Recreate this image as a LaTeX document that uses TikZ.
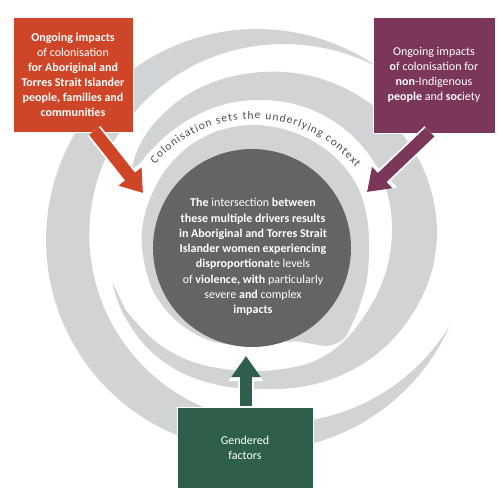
\documentclass[tikz,border=0pt]{standalone}
\usepackage{fontspec}
\setmainfont{Carlito}
\usetikzlibrary{decorations.text,arrows.meta}
\definecolor{band}{HTML}{D1D3D4}
\definecolor{core}{HTML}{636466}
\definecolor{orangebox}{HTML}{CF4527}
\definecolor{purplebox}{HTML}{7A3759}
\definecolor{greenbox}{HTML}{2D5F4A}
\definecolor{arctext}{HTML}{4D4D4F}
\tikzset{
  boxnode/.style={draw=white, line width=0.8pt, text=white, align=center, inner sep=2pt, font=\fontsize{12}{15}\selectfont},
  arrowwhite/.style={draw=white, line width=16pt, -{Triangle[width=33pt,length=25pt]}},
  arrowfill/.style={line width=12.5pt, -{Triangle[width=28pt,length=21pt]}},
}
\begin{document}
\begin{tikzpicture}[x=1pt,y=1pt]
\useasboundingbox (0,0) rectangle (503,-496);
% outer band
\fill[band, shift={(257,-240)}]
  plot[domain=55:336, samples=90] ({211*cos(\x)}, {211*sin(\x)})
  -- plot[domain=336:55, samples=90] ({(211-44*sin(0.6406*(\x-55)))*cos(\x)}, {(211-44*sin(0.6406*(\x-55)))*sin(\x)}) -- cycle;
% middle band
\fill[band, shift={(262,-232)}]
  plot[smooth, tension=0.6] coordinates {(-161.5:158) (-150:161) (-135:163) (-120:162) (-105:159) (-90:157) (-75:160) (-60:164) (-45:168) (-30:171) (-15:174) (0:175) (15:174) (30:172) (45:169) (60:166) (75:163) (90:160) (105:158) (120:156) (135:153) (147:149) (157:143)}
  -- plot[smooth, tension=0.6] coordinates {(147:139) (135:136) (120:134) (105:133) (90:132) (75:132) (60:132) (45:132) (30:132) (15:131) (0:130) (-15:130) (-30:131) (-45:134) (-55:137) (-65:139) (-75:139) (-90:139) (-105:142) (-120:148) (-135:153) (-150:157)} -- cycle;
% inner band
\fill[band, shift={(252,-248)}]
  plot[smooth, tension=0.6] coordinates {(257:99) (245:102) (230:104) (216:106) (200:108) (180:110) (165:112) (150:114) (135:117) (120:120) (105:122) (90:123) (75:123) (60:123) (45:123) (30:122) (15:119) (0:117) (-15:119) (-28:122) (-38:126) (-45:129) (-52:124) (-58:113) (-64:104) (-70:100)}
  -- plot[smooth, tension=0.6] coordinates {(-64:92) (0:90) (90:90) (180:90) (250:92)} -- cycle;
% arc text
\path[decorate, decoration={text along path, text align={fit to path},
  text={|\fontsize{11.5}{13}\selectfont\color{arctext}|Colonisation sets the underlying context}}]
  (254,-250) ++(139:131) arc (139:39:131);
% boxes
\node[boxnode, fill=orangebox, minimum width=120pt, minimum height=115pt] (obox) at (73,-74.5)
  {\textbf{Ongoing impacts}\\of colonisation\\\textbf{for Aboriginal and}\\\textbf{Torres Strait Islander}\\\textbf{people, families and}\\\textbf{communities}};
\node[boxnode, fill=purplebox, minimum width=122pt, minimum height=116pt] (pbox) at (434,-75)
  {Ongoing impacts\\\textbf{o}f colonisation for\\\textbf{non}-Indigenous\\\textbf{people} and \textbf{soc}iety};
\node[boxnode, fill=greenbox, minimum width=136pt, minimum height=81pt] (gbox) at (245,-447.5)
  {Gendered\\factors};
% core
\node[circle, fill=core, minimum size=198pt, inner sep=0pt] (core) at (252,-248) {};
\node[text=white, align=center, font=\fontsize{12}{15.3}\selectfont] (coretext) at (253,-257)
  {\textbf{The} intersection \textbf{between}\\\textbf{these multiple drivers results}\\\textbf{in Aboriginal and Torres Strait}\\\textbf{Islander women experiencing}\\\textbf{disproportiona}te levels\\of \textbf{violence, with} particularly\\severe \textbf{and} complex\\\textbf{impacts}};
% arrows
\coordinate (otail) at (94,-131);
\coordinate (otip) at (143,-193);
\coordinate (ptail) at (430,-132);
\coordinate (ptip) at (367,-192);
\coordinate (gtail) at (246,-406);
\coordinate (gtip) at (246,-356);
\draw[arrowwhite] (otail) -- (otip);
\draw[arrowfill, orangebox] (otail) -- (otip);
\draw[arrowwhite] (ptail) -- (ptip);
\draw[arrowfill, purplebox] (ptail) -- (ptip);
\draw[arrowwhite] (gtail) -- (gtip);
\draw[arrowfill, greenbox] (gtail) -- (gtip);
\end{tikzpicture}
\end{document}
